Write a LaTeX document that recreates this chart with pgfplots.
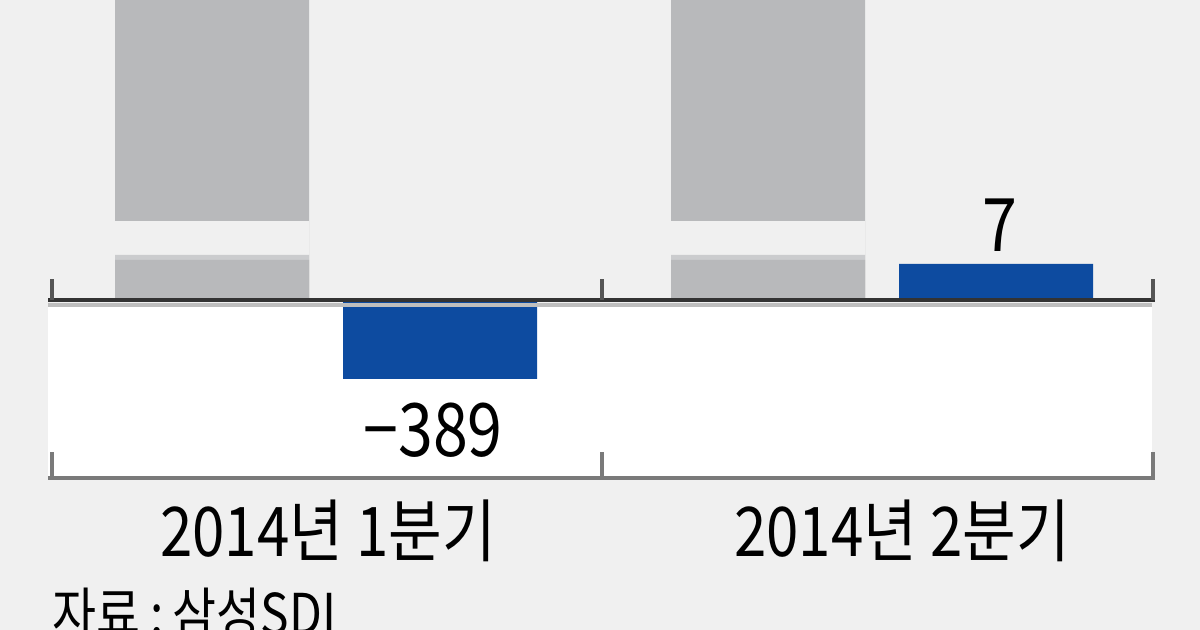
\documentclass[border=0pt]{standalone}
\usepackage{pgfplots}
\pgfplotsset{compat=1.18}
\usepackage{fontspec}
\setmainfont[FakeStretch=0.85]{Noto Sans CJK KR}
\definecolor{bgc}{HTML}{F0F0F0}
\definecolor{salesgray}{HTML}{B8B9BB}
\definecolor{salestop}{HTML}{CBCCCE}
\definecolor{opblue}{HTML}{0D4BA0}
\definecolor{axdark}{HTML}{333333}
\definecolor{axtick}{HTML}{555555}
\definecolor{axgray}{HTML}{7A7A7A}
\definecolor{axlight}{HTML}{BEBEBE}

% drawing units: 1 unit = 1 px of the 1200x630 reference, zero line at 0
\begin{document}
\begin{tikzpicture}
\useasboundingbox (0,0) rectangle (12cm,6.3cm);
\clip (0,0) rectangle (12cm,6.3cm);
\begin{axis}[
    at={(0,0)}, anchor=south west,
    scale only axis,
    width=12cm, height=6.3cm,
    xmin=0, xmax=1200, ymin=-330, ymax=300,
    axis line style={draw=none},
    xtick=\empty, ytick=\empty,
    axis background/.style={fill=bgc},
    ybar,
    bar width=194,
]
% white panel below the zero line
\fill[white] (axis cs:48,-4) rectangle (axis cs:1152,-178);

% sales bars (cut, with a break)
\addplot[fill=salesgray, draw=none, bar shift=0pt] coordinates {(212,400) (768,400)};
\addplot[fill=bgc, draw=none, bar shift=0pt] coordinates {(212,79) (768,79)};
\addplot[fill=salestop, draw=none, bar shift=0pt] coordinates {(212,45) (768,45)};
\addplot[fill=salesgray, draw=none, bar shift=0pt] coordinates {(212,40) (768,40)};

% operating profit bars (values -389 and 7, drawn not to scale)
\addplot[fill=opblue, draw=none, bar shift=0pt] coordinates {(440,-79) (996,36)};

% zero line and frame
\draw[axlight, line width=0.04cm] (axis cs:48,-5) -- (axis cs:1152,-5);
\draw[axdark, line width=0.045cm] (axis cs:48,0) -- (axis cs:1155,0);
\pgfplotsinvokeforeach{52,602,1153}{
    \draw[axtick, line width=0.04cm] (axis cs:#1,0) -- (axis cs:#1,21);
    \draw[axgray, line width=0.04cm] (axis cs:#1,-178) -- (axis cs:#1,-152);
}
\draw[axgray, line width=0.045cm] (axis cs:48,-178) -- (axis cs:1155,-178);

% value labels
\node[font=\fontsize{21}{22}\selectfont, text=black] at (axis cs:433,-130) {−389};
\node[font=\fontsize{21}{22}\selectfont, text=black] at (axis cs:1000,75) {7};

% category labels and source
\node[font=\fontsize{19.5}{21}\selectfont, text=black] at (axis cs:328,-231) {2014년 1분기};
\node[font=\fontsize{19.5}{21}\selectfont, text=black] at (axis cs:902,-231) {2014년 2분기};
\node[anchor=north west, inner sep=0pt, font=\fontsize{16}{18}\selectfont, text=black]
    at (axis cs:52,-287) {자료\,:\,삼성SDI};
\end{axis}
\end{tikzpicture}
\end{document}
